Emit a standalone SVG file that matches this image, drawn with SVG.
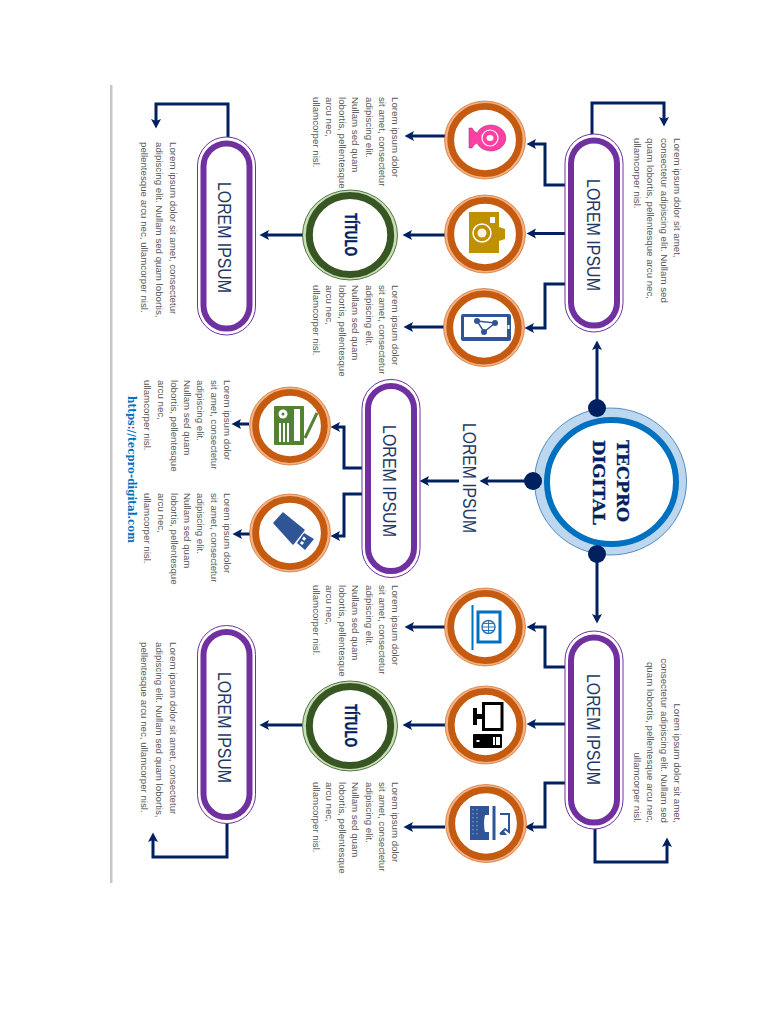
<svg xmlns="http://www.w3.org/2000/svg" width="768" height="1024" viewBox="0 0 768 1024">
<style>
.c{fill:none;stroke:#002060;stroke-width:3;marker-end:url(#ah)}
.t{font-family:"Liberation Sans",Arial,sans-serif;font-size:9.7px;fill:#555}
.pl{font-family:"Liberation Sans",Arial,sans-serif;font-size:18px;fill:#1f3864}
.tt{font-family:"Liberation Sans",Arial,sans-serif;font-size:16px;font-weight:bold;fill:#002060;stroke:#002060;stroke-width:.4}
.big{font-family:"DejaVu Serif",serif;font-size:17.5px;font-weight:bold;fill:#002060;stroke:#002060;stroke-width:.3}
.url{font-family:"DejaVu Serif",serif;font-size:10.5px;font-weight:bold;fill:#0070c0}
.w{fill:#fff}
</style>
<defs>
<marker id="ah" markerUnits="userSpaceOnUse" markerWidth="10" markerHeight="11" viewBox="0 0 10 11" refX="4" refY="5.5" orient="auto"><path d="M0,0.5 L9.5,5.5 L0,10.500 L2,5.5 Z" fill="#002060"/></marker>
<g id="pill">
<rect x="-29" y="-99" width="58" height="198" rx="29" fill="#fff" stroke="#7030a0" stroke-width="1"/>
<rect x="-23" y="-92.5" width="46" height="185" rx="23" fill="#fff" stroke="#7030a0" stroke-width="6"/>
</g>
<g id="ring">
<ellipse rx="40.5" ry="39" fill="#f4b183" stroke="#c55a11" stroke-width=".6"/>
<ellipse rx="34.3" ry="33.6" fill="#fff" stroke="#c55a11" stroke-width="6.8"/>
</g>
<g id="gring">
<ellipse rx="47.5" ry="45" fill="#c5e0b4" stroke="#375623" stroke-width=".8"/>
<ellipse rx="40.7" ry="39.5" fill="#fff" stroke="#375623" stroke-width="7"/>
</g>
</defs>
<rect width="768" height="1024" fill="#fff"/>
<rect x="110" y="85" width="2.5" height="798" fill="#c8c8c8"/>

<g id="connectors">
<path class="c" d="M597,408 V346"/>
<path class="c" d="M597,554 V618"/>
<path class="c" d="M533,481 H485"/>
<path class="c" d="M459,481 H425"/>
<path class="c" d="M592,134 V103 H664 V121"/>
<path class="c" d="M565,185 H545 V144 H532"/>
<path class="c" d="M565,233.500 H532"/>
<path class="c" d="M565,284 H545 V328 H530"/>
<path class="c" d="M445,136 H410"/>
<path class="c" d="M445,235 H408"/>
<path class="c" d="M444,327 H409"/>
<path class="c" d="M303,235 H265"/>
<path class="c" d="M228,137 V104 H156 V123"/>
<path class="c" d="M595,828 V862 H667 V843"/>
<path class="c" d="M565,667 H545 V627 H532"/>
<path class="c" d="M565,724 H532"/>
<path class="c" d="M565,783 H545 V827 H530"/>
<path class="c" d="M445,627 H410"/>
<path class="c" d="M445,725 H408"/>
<path class="c" d="M445,827 H409"/>
<path class="c" d="M302,725 H265"/>
<path class="c" d="M227,823 V857 H153 V838"/>
<path class="c" d="M362,468 H344 V427 H336"/>
<path class="c" d="M362,494 H344 V536 H336"/>
<path class="c" d="M249,424 H237"/>
<path class="c" d="M250,534 H238"/>
</g>

<g id="center-node">
<ellipse cx="610.500" cy="481.500" rx="76" ry="73.500" fill="#bdd7ee" stroke="#2e75b6" stroke-width=".8"/>
<ellipse cx="611.500" cy="482" rx="64.500" ry="62" fill="#fff" stroke="#0070c0" stroke-width="6"/>
<circle cx="597" cy="408" r="9" fill="#002060"/>
<circle cx="597" cy="554" r="9" fill="#002060"/>
<circle cx="533" cy="481" r="9" fill="#002060"/>
<text class="big" transform="translate(617,440) rotate(90)" textLength="82" lengthAdjust="spacingAndGlyphs">TECPRO</text>
<text class="big" transform="translate(593,440) rotate(90)" textLength="85" lengthAdjust="spacingAndGlyphs">DIGITAL</text>
</g>

<text id="branch-label" class="pl" transform="translate(462.500,423) rotate(90)" textLength="110" lengthAdjust="spacingAndGlyphs">LOREM IPSUM</text>

<g id="pill-top-right"><use href="#pill" x="594" y="233"/><text class="pl" transform="translate(586.500,179) rotate(90)" textLength="112" lengthAdjust="spacingAndGlyphs">LOREM IPSUM</text></g>
<g id="pill-bottom-right"><use href="#pill" x="594" y="730"/><text class="pl" transform="translate(586.500,674) rotate(90)" textLength="111" lengthAdjust="spacingAndGlyphs">LOREM IPSUM</text></g>
<g id="pill-middle"><use href="#pill" x="391" y="478.500"/><text class="pl" transform="translate(382.500,425) rotate(90)" textLength="112" lengthAdjust="spacingAndGlyphs">LOREM IPSUM</text></g>
<g id="pill-top-left"><use href="#pill" x="226.500" y="236"/><text class="pl" transform="translate(217.500,182) rotate(90)" textLength="111" lengthAdjust="spacingAndGlyphs">LOREM IPSUM</text></g>
<g id="pill-bottom-left"><use href="#pill" x="226.500" y="724.500"/><text class="pl" transform="translate(217.500,672) rotate(90)" textLength="111" lengthAdjust="spacingAndGlyphs">LOREM IPSUM</text></g>

<g id="titulo-top"><use href="#gring" x="350" y="235"/><text class="tt" transform="translate(344.500,213) rotate(90)" textLength="43" lengthAdjust="spacingAndGlyphs">TÍTULO</text></g>
<g id="titulo-bottom"><use href="#gring" x="350" y="726"/><text class="tt" transform="translate(344.500,704) rotate(90)" textLength="43" lengthAdjust="spacingAndGlyphs">TÍTULO</text></g>

<g id="icon-webcam"><use href="#ring" x="485" y="140"/>
<path d="M469,128 h3 q2,4 5,5 a15,13 0 1 1 0,10 q-3,1 -5,5 h-3 z" fill="#ff3fa4" stroke="#a0206a" stroke-width=".5"/>
<ellipse cx="490" cy="138" rx="8" ry="8" fill="none" stroke="#fff" stroke-width="1.200"/>
<ellipse cx="490" cy="138" rx="3.500" ry="3" fill="#fff"/>
</g>
<g id="icon-camera"><use href="#ring" x="485" y="234"/>
<path d="M469,212 h30 v15 l6,2 v10 l-6,2 v12 h-30 z" fill="#bf9000"/>
<rect x="490" y="217" width="5" height="6" fill="#fff"/>
<circle cx="482" cy="233" r="9" fill="none" stroke="#fff" stroke-width="1.500"/>
<circle cx="482" cy="233" r="4.500" fill="#fff" opacity=".9"/>
</g>
<g id="icon-phone"><use href="#ring" x="484" y="327.500"/>
<rect x="461" y="314" width="50" height="27" rx="2" fill="#2f5597"/>
<rect x="464" y="317" width="43" height="20" fill="#fff"/>
<rect x="507.500" y="325" width="2" height="4" fill="#fff"/>
<path d="M477,321 L495,323 L484,332 Z" fill="none" stroke="#2f5597" stroke-width="1.500"/>
<circle cx="477" cy="321" r="3" fill="#2f5597"/><circle cx="495" cy="323" r="3" fill="#2f5597"/><circle cx="484" cy="332" r="3" fill="#2f5597"/>
</g>

<g id="icon-monitor-globe"><use href="#ring" x="485" y="627"/>
<rect x="471.500" y="605" width="2" height="45" fill="#0070c0"/>
<rect x="478" y="612" width="22" height="30" fill="#fff" stroke="#0070c0" stroke-width="3"/>
<circle cx="488.500" cy="627" r="6.500" fill="none" stroke="#2e75b6" stroke-width="1.500"/>
<path d="M482,627 H495 M488.500,620.500 V633.500 M483,623.500 H494 M483,630.500 H494" stroke="#2e75b6" stroke-width="1" fill="none"/>
</g>
<g id="icon-computer"><use href="#ring" x="485.500" y="725"/>
<rect x="483.500" y="703.500" width="18.500" height="26" fill="#fff" stroke="#000" stroke-width="3"/>
<rect x="477" y="714" width="5" height="5"/>
<rect x="473" y="708" width="4" height="17"/>
<rect x="473" y="734" width="29" height="14" rx="1"/>
<rect x="493" y="737" width="2" height="8" class="w"/>
<rect x="496" y="737" width="4" height="8" class="w"/>
<rect x="476.500" y="740" width="3" height="2" class="w"/>
</g>
<g id="icon-typewriter"><use href="#ring" x="486" y="823.500"/>
<path d="M470,806 h19 v9 h-4 q-2,8 0,17 h4 v8 h-19 z" fill="#2f5597"/>
<path d="M473,809 V837" stroke="#8fa8d0" stroke-width="1" stroke-dasharray="1.500 2.500" fill="none"/>
<path d="M477,809 V837" stroke="#8fa8d0" stroke-width="1" stroke-dasharray="1.500 2.500" fill="none"/>
<rect x="492.500" y="806" width="3" height="34" fill="#2f5597"/>
<path d="M500,814 H509 V832 L505,829 L500,834" fill="none" stroke="#2f5597" stroke-width="2"/>
<path d="M500,835 L507,835 L503,830 Z" fill="#2f5597"/>
</g>
<g id="icon-board"><use href="#ring" x="290" y="426"/>
<rect x="274" y="406" width="30" height="39" rx="1" fill="#548235"/>
<circle cx="283" cy="414" r="4.500" fill="#fff"/><circle cx="283" cy="414" r="1.500" fill="#548235"/>
<rect x="279" y="423" width="2" height="19" class="w"/><rect x="283" y="423" width="2" height="19" class="w"/><rect x="287" y="423" width="2" height="19" class="w"/>
<rect x="294" y="409" width="6" height="32" class="w"/>
<path d="M317,413 L305,438" stroke="#548235" stroke-width="3" fill="none"/>
</g>
<g id="icon-usb"><use href="#ring" x="290" y="533"/>
<path d="M274,523 L283,513 L304,530 L293,544 Z" fill="#2f5597" stroke="#2f5597" stroke-width="1.500" stroke-linejoin="round"/>
<path d="M304,533 L314,539 L305,550 L297,543 Z" fill="#2f5597"/>
<rect x="303" y="537" width="3" height="3" class="w" transform="rotate(38 304 538)"/>
<rect x="300.500" y="541.500" width="3" height="3" class="w" transform="rotate(38 302 543)"/>
</g>

<g id="texts">
<text class="t" transform="translate(674,138) rotate(90)"><tspan x="0" y="0">Lorem ipsum dolor sit amet,</tspan><tspan x="0" y="13.300">consectetur adipiscing elit. Nullam sed</tspan><tspan x="0" y="26.600">quam lobortis, pellentesque arcu nec,</tspan><tspan x="0" y="39.900">ullamcorper nisl.</tspan></text>
<text class="t" text-anchor="end" transform="translate(674,823) rotate(90)"><tspan x="0" y="0">Lorem ipsum dolor sit amet,</tspan><tspan x="0" y="13.300">consectetur adipiscing elit. Nullam sed</tspan><tspan x="0" y="26.600">quam lobortis, pellentesque arcu nec,</tspan><tspan x="0" y="39.900">ullamcorper nisl.</tspan></text>
<text class="t" transform="translate(392,97) rotate(90)"><tspan x="0" y="0">Lorem ipsum dolor</tspan><tspan x="0" y="13.200">sit amet, consectetur</tspan><tspan x="0" y="26.400">adipiscing elit.</tspan><tspan x="0" y="39.600">Nullam sed quam</tspan><tspan x="0" y="52.800">lobortis, pellentesque</tspan><tspan x="0" y="66">arcu nec,</tspan><tspan x="0" y="79.200">ullamcorper nisl.</tspan></text>
<text class="t" transform="translate(392,285) rotate(90)"><tspan x="0" y="0">Lorem ipsum dolor</tspan><tspan x="0" y="13.200">sit amet, consectetur</tspan><tspan x="0" y="26.400">adipiscing elit.</tspan><tspan x="0" y="39.600">Nullam sed quam</tspan><tspan x="0" y="52.800">lobortis, pellentesque</tspan><tspan x="0" y="66">arcu nec,</tspan><tspan x="0" y="79.200">ullamcorper nisl.</tspan></text>
<text class="t" transform="translate(392,585) rotate(90)"><tspan x="0" y="0">Lorem ipsum dolor</tspan><tspan x="0" y="13.200">sit amet, consectetur</tspan><tspan x="0" y="26.400">adipiscing elit.</tspan><tspan x="0" y="39.600">Nullam sed quam</tspan><tspan x="0" y="52.800">lobortis, pellentesque</tspan><tspan x="0" y="66">arcu nec,</tspan><tspan x="0" y="79.200">ullamcorper nisl.</tspan></text>
<text class="t" transform="translate(392,782) rotate(90)"><tspan x="0" y="0">Lorem ipsum dolor</tspan><tspan x="0" y="13.200">sit amet, consectetur</tspan><tspan x="0" y="26.400">adipiscing elit.</tspan><tspan x="0" y="39.600">Nullam sed quam</tspan><tspan x="0" y="52.800">lobortis, pellentesque</tspan><tspan x="0" y="66">arcu nec,</tspan><tspan x="0" y="79.200">ullamcorper nisl.</tspan></text>
<text class="t" transform="translate(224,380) rotate(90)"><tspan x="0" y="0">Lorem ipsum dolor</tspan><tspan x="0" y="13.300">sit amet, consectetur</tspan><tspan x="0" y="26.600">adipiscing elit.</tspan><tspan x="0" y="39.900">Nullam sed quam</tspan><tspan x="0" y="53.200">lobortis, pellentesque</tspan><tspan x="0" y="66.500">arcu nec,</tspan><tspan x="0" y="79.800">ullamcorper nisl.</tspan></text>
<text class="t" transform="translate(224,493) rotate(90)"><tspan x="0" y="0">Lorem ipsum dolor</tspan><tspan x="0" y="13.300">sit amet, consectetur</tspan><tspan x="0" y="26.600">adipiscing elit.</tspan><tspan x="0" y="39.900">Nullam sed quam</tspan><tspan x="0" y="53.200">lobortis, pellentesque</tspan><tspan x="0" y="66.500">arcu nec,</tspan><tspan x="0" y="79.800">ullamcorper nisl.</tspan></text>
<text class="t" transform="translate(170,142) rotate(90)"><tspan x="0" y="0">Lorem ipsum dolor sit amet, consectetur</tspan><tspan x="0" y="14.500">adipiscing elit. Nullam sed quam lobortis,</tspan><tspan x="0" y="29">pellentesque arcu nec, ullamcorper nisl.</tspan></text>
<text class="t" transform="translate(170,642) rotate(90)"><tspan x="0" y="0">Lorem ipsum dolor sit amet, consectetur</tspan><tspan x="0" y="14.500">adipiscing elit. Nullam sed quam lobortis,</tspan><tspan x="0" y="29">pellentesque arcu nec, ullamcorper nisl.</tspan></text>
<text class="url" transform="translate(127.500,396) rotate(90)" textLength="147" lengthAdjust="spacingAndGlyphs">https://tecpro-digital.com</text>
</g>
</svg>
